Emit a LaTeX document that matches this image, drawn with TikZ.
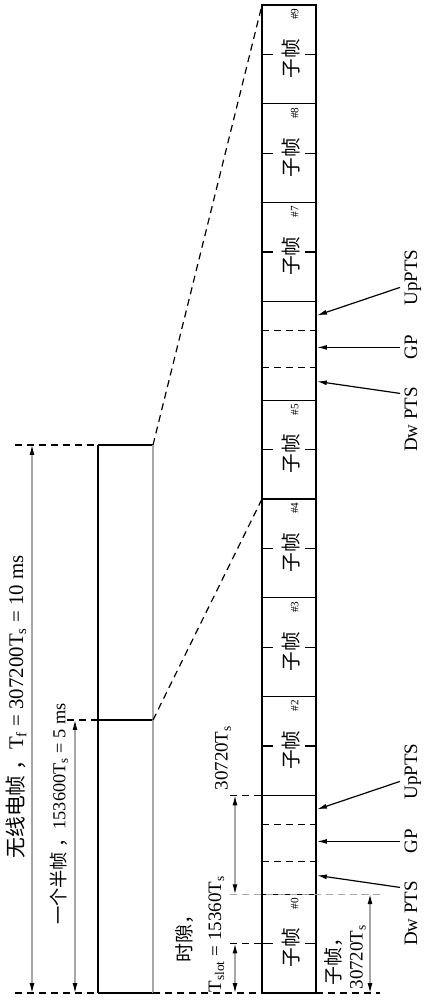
\documentclass[tikz,border=0pt]{standalone}
\usepackage{fontspec}
\setmainfont{Liberation Serif}
\newfontfamily\cjk{Noto Sans CJK SC}
\usetikzlibrary{arrows.meta,calc}

\begin{document}
\begin{tikzpicture} [x=0.025cm, y=-0.025cm, line width=0.85pt]
	\tikzset{txt/.style={rotate=90, inner sep=0pt, font=\fontsize{13.5}{16}\selectfont}}
	\tikzset{dim/.style={draw=gray!70, {Latex[length=7pt,width=3.5pt,color=black]}-{Latex[length=7pt,width=3.5pt,color=black]}}}
	\tikzset{ptr/.style={-{Latex[length=7pt,width=3.5pt]}}}
	\tikzset{ext/.style={dash pattern=on 5pt off 3.5pt}}
	\useasboundingbox (0,0) rectangle (429,1000);

	\draw (262,5) rectangle (316,993);
	\foreach \k in {1,...,9}
		\draw (262,{993-98.8*\k}) -- (316,{993-98.8*\k});
	\foreach \k in {0,2,3,4,5,7,8,9} {
		\pgfmathsetmacro{\ym}{943.6-98.8*\k}
		\draw (262,\ym) -- (273,\ym) (305,\ym) -- (316,\ym);
		\node[txt]	(sf\k)	at (291,{\ym-11})	{{\cjk\fontsize{14}{16}\selectfont 子帧}\hspace{1em}{\fontsize{8}{9}\selectfont\#\k}};
	}
	\foreach \k in {1,6} {
		\pgfmathsetmacro{\yt}{894.2-98.8*\k}
		\draw[ext] (262,{\yt+29}) -- (316,{\yt+29}) (262,{\yt+66}) -- (316,{\yt+66});
		\node[txt, anchor=north]	(up\k)	at (404,{\yt-24})	{UpPTS};
		\node[txt, anchor=north]	(gp\k)	at (404,{\yt+46})	{GP};
		\node[txt, anchor=north]	(dw\k)	at (404,{\yt+118})	{Dw PTS};
		\coordinate	(tu\k)	at (317,{\yt+14});
		\coordinate	(tg\k)	at (317,{\yt+46});
		\coordinate	(td\k)	at (317,{\yt+80});
		\path
			($(up\k.north)+(-4,10)$)	edge[ptr]	(tu\k)
			($(gp\k.north)+(-4,0)$)		edge[ptr]	(tg\k)
			($(dw\k.north)+(-4,-26)$)	edge[ptr]	(td\k)
			;
	}

	\draw (98,445) -- (153,445) (98,720) -- (153,720) (98,993) -- (153,993) (98,445) -- (98,993);
	\draw[gray!70] (153,445) -- (153,993);
	\draw[ext] (15,445) -- (98,445) (67,720) -- (98,720) (15,993) -- (98,993);
	\draw[ext] (153,993) -- (262,993) (316,993) -- (380,993);
	\draw[ext] (153,445) -- (262,5) (153,720) -- (262,499);
	\draw[ext] (230,795.4) -- (262,795.4) (230,943.6) -- (262,943.6);
	\draw[ext, gray!70] (230,894.2) -- (385,894.2);

	\node[txt, font=\fontsize{14.8}{17}\selectfont]
								(tf)	at (16,707)		{{\cjk 无线电帧 ，}T\textsubscript{f} = 307200T\textsubscript{s} = 10 ms};
	\node[txt, font=\fontsize{13}{15}\selectfont]
								(th)	at (59,814)		{{\cjk 一个半帧 ，}153600T\textsubscript{s} = 5 ms};
	\node[txt, align=center, font=\fontsize{13.5}{21}\selectfont]
								(ts)	at (200,934)	{{\cjk 时隙，}\\T\textsubscript{slot} = 15360T\textsubscript{s}};
	\node[txt]					(tp)	at (223,758)	{30720T\textsubscript{s}};
	\node[txt, align=center]	(tb)	at (345,957)	{{\cjk 子帧，}\\30720T\textsubscript{s}};

	\coordinate (a0) at (32,445);		\coordinate (a1) at (32,993);
	\coordinate (b0) at (75,720);		\coordinate (b1) at (75,993);
	\coordinate (c0) at (235,795.4);	\coordinate (c1) at (235,894.2);
	\coordinate (d0) at (235,943.6);	\coordinate (d1) at (235,993);
	\coordinate (e0) at (370,894.2);	\coordinate (e1) at (370,993);
	\path
		(a0) edge[dim] (a1)
		(b0) edge[dim] (b1)
		(c0) edge[dim] (c1)
		(d0) edge[dim] (d1)
		(e0) edge[dim] (e1)
		;
\end{tikzpicture}
\end{document}
